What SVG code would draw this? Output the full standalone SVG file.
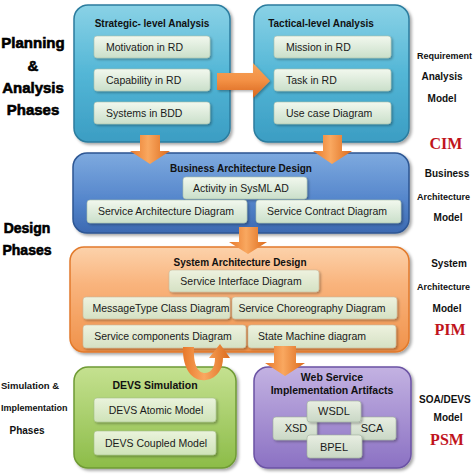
<svg xmlns="http://www.w3.org/2000/svg" width="474" height="474" viewBox="0 0 474 474">
<defs>
<linearGradient id="gTeal" x1="0" y1="0" x2="0" y2="1"><stop offset="0" stop-color="#8ad2e6"/><stop offset="0.5" stop-color="#53b6d6"/><stop offset="1" stop-color="#3b9dc3"/></linearGradient>
<linearGradient id="gBlue" x1="0" y1="0" x2="0" y2="1"><stop offset="0" stop-color="#7eaadf"/><stop offset="0.6" stop-color="#5485cb"/><stop offset="1" stop-color="#3c69b1"/></linearGradient>
<linearGradient id="gOrange" x1="0" y1="0" x2="0" y2="1"><stop offset="0" stop-color="#fcd2ab"/><stop offset="0.35" stop-color="#f9b47d"/><stop offset="1" stop-color="#f0924a"/></linearGradient>
<linearGradient id="gGreen" x1="0" y1="0" x2="0" y2="1"><stop offset="0" stop-color="#c5e190"/><stop offset="1" stop-color="#8cbc48"/></linearGradient>
<linearGradient id="gPurple" x1="0" y1="0" x2="0" y2="1"><stop offset="0" stop-color="#c3b2e2"/><stop offset="1" stop-color="#8b71c3"/></linearGradient>
<linearGradient id="gInner" x1="0" y1="0" x2="0" y2="1"><stop offset="0" stop-color="#f2f8ee"/><stop offset="1" stop-color="#cadfca"/></linearGradient>
<linearGradient id="gInnerO" x1="0" y1="0" x2="0" y2="1"><stop offset="0" stop-color="#eef2df"/><stop offset="1" stop-color="#d5e1c4"/></linearGradient>
<linearGradient id="gInnerG" x1="0" y1="0" x2="0" y2="1"><stop offset="0" stop-color="#eaf3dc"/><stop offset="1" stop-color="#cfe3b8"/></linearGradient>
<linearGradient id="gInnerP" x1="0" y1="0" x2="0" y2="1"><stop offset="0" stop-color="#e8eee2"/><stop offset="1" stop-color="#c9d7c5"/></linearGradient>
<linearGradient id="gArrowV" x1="0" y1="0" x2="1" y2="0"><stop offset="0" stop-color="#e8782a"/><stop offset="0.45" stop-color="#f9a860"/><stop offset="1" stop-color="#dc6a1c"/></linearGradient>
<linearGradient id="gArrowH" x1="0" y1="0" x2="0" y2="1"><stop offset="0" stop-color="#f6a45a"/><stop offset="0.5" stop-color="#f39045"/><stop offset="1" stop-color="#d8661c"/></linearGradient>
<filter id="sh" x="-10%" y="-10%" width="125%" height="130%"><feDropShadow dx="2" dy="2" stdDeviation="1.5" flood-color="#000" flood-opacity="0.35"/></filter>
<filter id="shs" x="-10%" y="-20%" width="125%" height="150%"><feDropShadow dx="1.5" dy="1.5" stdDeviation="1" flood-color="#000" flood-opacity="0.3"/></filter>
<style>
.big{stroke-width:1.5;filter:url(#sh)}
.teal{fill:url(#gTeal);stroke:#2c7c9e}
.blue{fill:url(#gBlue);stroke:#2d5693}
.orange{fill:url(#gOrange);stroke:#e27a2c}
.green{fill:url(#gGreen);stroke:#6f9b34}
.purple{fill:url(#gPurple);stroke:#6b53a4}
.in{stroke-width:0.6;filter:url(#shs)}
.i1{fill:url(#gInner);stroke:#a9c0ad}
.i2{fill:url(#gInnerO);stroke:#c9b89a}
.i3{fill:url(#gInnerG);stroke:#a6c08a}
.i4{fill:url(#gInnerP);stroke:#9fae9c}
.t{font-family:"Liberation Sans",Arial,sans-serif;font-weight:bold;font-size:10px;fill:#111}
.l{font-family:"Liberation Sans",Arial,sans-serif;font-size:10.5px;fill:#1a1a1a}
.lm{text-anchor:middle}
.side{font-family:"Liberation Sans",Arial,sans-serif;font-weight:bold;font-size:10px;fill:#111}
.ph{font-family:"Liberation Sans",Arial,sans-serif;font-weight:bold;font-size:15px;fill:#000;stroke:#000;stroke-width:0.6}
.red{font-family:"Liberation Serif","Times New Roman",serif;font-weight:bold;font-size:16px;fill:#c0141c;text-anchor:middle}
.arr{stroke:none}
</style>
</defs>

<g id="labels-left">
<text class="ph" x="33" y="48" text-anchor="middle">Planning</text>
<text class="ph" x="33" y="71" text-anchor="middle">&amp;</text>
<text class="ph" x="33" y="93" text-anchor="middle">Analysis</text>
<text class="ph" x="33" y="115" text-anchor="middle">Phases</text>
<text class="ph" x="27" y="233" text-anchor="middle" style="font-size:14px">Design</text>
<text class="ph" x="27" y="255" text-anchor="middle" style="font-size:14px">Phases</text>
<text class="side" x="1" y="389" style="font-size:9.5px">Simulation &amp;</text>
<text class="side" x="1" y="411" style="font-size:9px">Implementation</text>
<text class="side" x="27" y="434" text-anchor="middle">Phases</text>
</g>

<g id="labels-right">
<text class="side" x="417" y="59" style="font-size:9px">Requirement</text>
<text class="side" x="442" y="80" text-anchor="middle">Analysis</text>
<text class="side" x="442" y="102" text-anchor="middle">Model</text>
<text class="red" x="446" y="149">CIM</text>
<text class="side" x="447" y="177" text-anchor="middle">Business</text>
<text class="side" x="417" y="200" style="font-size:9px">Architecture</text>
<text class="side" x="448" y="221" text-anchor="middle">Model</text>
<text class="side" x="449" y="267" text-anchor="middle">System</text>
<text class="side" x="417" y="290" style="font-size:9px">Architecture</text>
<text class="side" x="447" y="312" text-anchor="middle">Model</text>
<text class="red" x="450" y="335">PIM</text>
<text class="side" x="419" y="403">SOA/DEVS</text>
<text class="side" x="448" y="421" text-anchor="middle">Model</text>
<text class="red" x="447" y="445">PSM</text>
</g>

<g id="strategic">
<rect class="big teal" x="74" y="5" width="156" height="137" rx="14"/>
<text class="t" x="152" y="27" text-anchor="middle">Strategic- level Analysis</text>
<rect class="in i1" x="94" y="36" width="116" height="22" rx="3"/>
<text class="l" x="106" y="51">Motivation in RD</text>
<rect class="in i1" x="94" y="69" width="116" height="22" rx="3"/>
<text class="l" x="106" y="84">Capability in RD</text>
<rect class="in i1" x="94" y="102" width="116" height="22" rx="3"/>
<text class="l" x="106" y="117">Systems in BDD</text>
</g>

<g id="tactical">
<rect class="big teal" x="254" y="5" width="155" height="137" rx="14"/>
<text class="t" x="321" y="27" text-anchor="middle">Tactical-level Analysis</text>
<rect class="in i1" x="274" y="36" width="117" height="22" rx="3"/>
<text class="l" x="286" y="51">Mission  in RD</text>
<rect class="in i1" x="274" y="69" width="117" height="22" rx="3"/>
<text class="l" x="286" y="84">Task in RD</text>
<rect class="in i1" x="274" y="102" width="117" height="22" rx="3"/>
<text class="l" x="286" y="117">Use case Diagram</text>
</g>

<g id="business">
<rect class="big blue" x="73" y="153" width="336" height="80" rx="14"/>
<text class="t" x="241" y="172" text-anchor="middle">Business Architecture Design</text>
<rect class="in i1" x="183" y="177" width="124" height="22" rx="3"/>
<text class="l lm" x="241" y="192">Activity in SysML AD</text>
<rect class="in i1" x="87" y="200" width="160" height="23" rx="3"/>
<text class="l lm" x="166" y="215">Service Architecture Diagram</text>
<rect class="in i1" x="256" y="200" width="145" height="23" rx="3"/>
<text class="l lm" x="327" y="215">Service Contract Diagram</text>
</g>

<g id="system">
<rect class="big orange" x="70" y="247" width="339" height="105" rx="14"/>
<text class="t" x="240" y="266" text-anchor="middle">System Architecture Design</text>
<rect class="in i2" x="169" y="270" width="150" height="22" rx="3"/>
<text class="l lm" x="241" y="285">Service Interface Diagram</text>
<rect class="in i2" x="83" y="297" width="147" height="22" rx="3"/>
<text class="l lm" x="161" y="312">MessageType Class Diagram</text>
<rect class="in i2" x="232" y="297" width="165" height="22" rx="3"/>
<text class="l lm" x="312" y="312">Service Choreography Diagram</text>
<rect class="in i2" x="83" y="325" width="163" height="23" rx="3"/>
<text class="l lm" x="163" y="340">Service components Diagram</text>
<rect class="in i2" x="248" y="325" width="148" height="23" rx="3"/>
<text class="l lm" x="312" y="340">State Machine diagram</text>
</g>

<g id="devs">
<rect class="big green" x="74" y="367" width="162" height="101" rx="14"/>
<text class="t" x="155" y="389" text-anchor="middle" style="font-size:10.5px">DEVS Simulation</text>
<rect class="in i3" x="94" y="398" width="122" height="24" rx="3"/>
<text class="l lm" x="156" y="414">DEVS Atomic Model</text>
<rect class="in i3" x="94" y="431" width="122" height="24" rx="3"/>
<text class="l lm" x="156" y="447">DEVS Coupled Model</text>
</g>

<g id="webservice">
<rect class="big purple" x="254" y="367" width="157" height="101" rx="14"/>
<text class="t" x="332" y="381" text-anchor="middle" style="font-size:10.5px">Web Service</text>
<text class="t" x="332" y="394" text-anchor="middle" style="font-size:10.5px">Implementation Artifacts</text>
<rect class="in i4" x="273" y="417" width="44" height="23" rx="3"/>
<text class="l lm" x="296" y="432" style="font-size:11px">XSD</text>
<rect class="in i4" x="351" y="417" width="45" height="23" rx="3"/>
<text class="l lm" x="372" y="432" style="font-size:11px">SCA</text>
<rect class="in i4" x="307" y="401" width="54" height="21" rx="3"/>
<text class="l lm" x="334" y="415" style="font-size:11px">WSDL</text>
<rect class="in i4" x="307" y="435" width="55" height="23" rx="3"/>
<text class="l lm" x="334" y="451" style="font-size:11px">BPEL</text>
</g>

<g id="connectors">
<polygon class="arr" fill="url(#gArrowH)" points="217,73 253,73 253,63 270,81 253,98 253,90 217,90" filter="url(#shs)"/>
<polygon class="arr" fill="url(#gArrowV)" points="140,135 160,135 160,151 170,151 150,164 130,151 140,151"/>
<polygon class="arr" fill="url(#gArrowV)" points="323,135 342,135 342,151 352,151 332,164 313,151 323,151"/>
<polygon class="arr" fill="url(#gArrowV)" points="239,227 258,227 258,242 267,242 248,254 229,242 239,242"/>
<polygon class="arr" fill="url(#gArrowV)" points="274,346 296,346 296,363 305,363 285,376 265,363 274,363"/>
<path class="arr" fill="url(#gArrowV)" d="M183 347 C182 372 195 382 206 380 C218 378 223 368 223 358 L230 358 L220 344 L209 358 L215 358 C215 367 211 373 205 373 C198 373 193 365 194 347 Z"/>
</g>
</svg>
